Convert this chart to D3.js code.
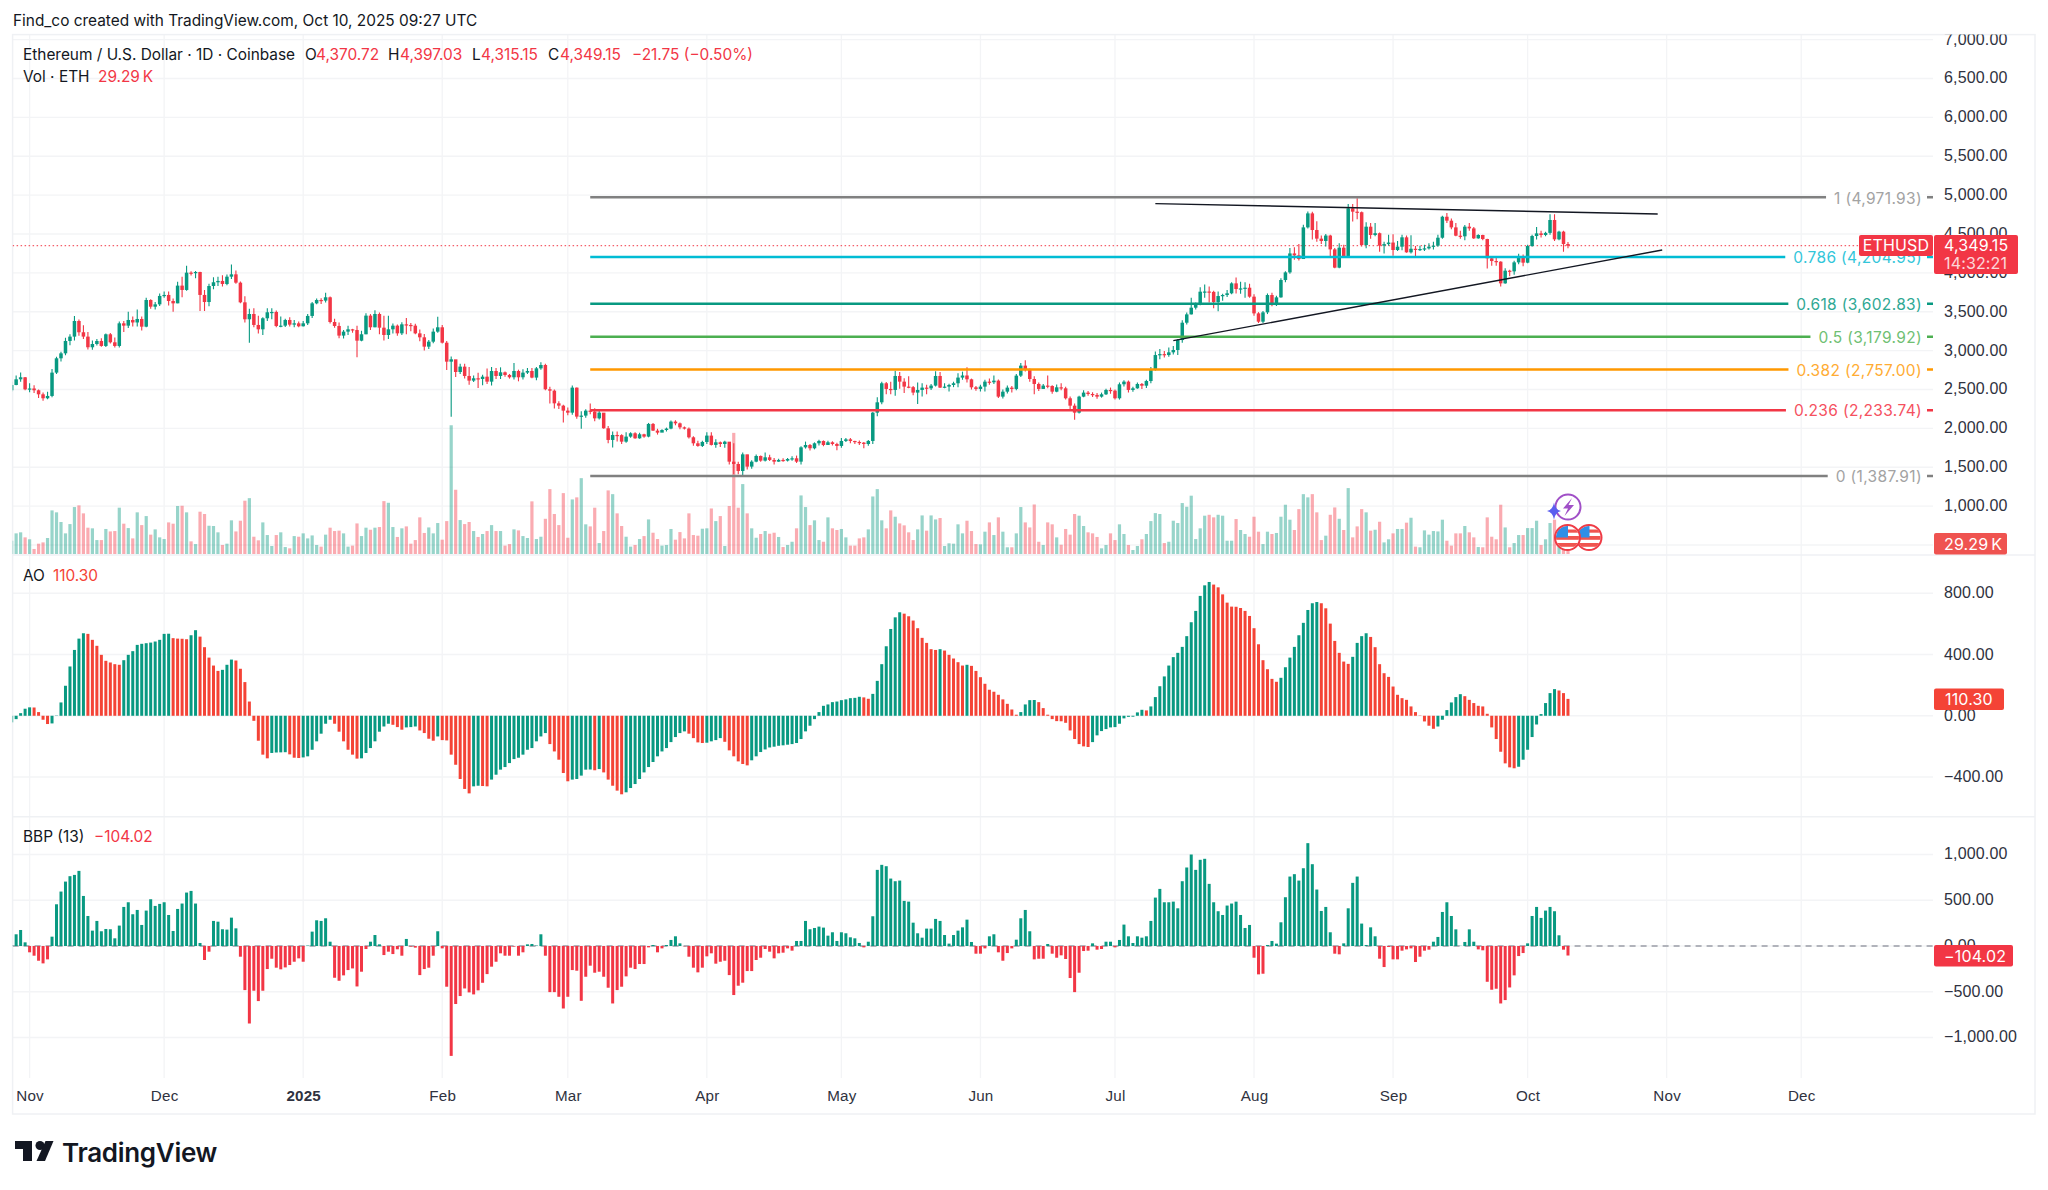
<!DOCTYPE html>
<html>
<head>
<meta charset="utf-8">
<title>ETHUSD daily</title>
<script src="https://cdn.jsdelivr.net/npm/d3@7"></script>
<style>
  html, body { margin: 0; padding: 0; background: #fff; }
  svg { display: block; font-family: Inter, Roboto, "Noto Sans", sans-serif; }
  text { font-kerning: normal; }
</style>
</head>
<body>
<svg id="chart" width="2048" height="1190"></svg>
<script>
// Daily ETH/USD candles, one value per day starting 28 Oct 2024 (last day 10 Oct 2025).
const firstDay = Date.UTC(2024, 9, 28);
const firstOpen = 2490;

const closes = [
  2558,2631,2657,2502,2513,2490,2438,2387,2417,2717,2901,2965,3124,3180,3381,3236,3180,3043,3085,3124,
  3060,3210,3107,3060,3351,3321,3394,3362,3407,3308,3651,3565,3595,3703,3716,3638,3608,3836,3780,4003,
  3998,4011,3716,3625,3831,3879,3896,3857,3951,3981,3874,3621,3403,3471,3330,3274,3416,3493,3497,3317,
  3321,3394,3334,3351,3313,3351,3446,3608,3651,3643,3686,3368,3317,3193,3244,3274,3265,3128,3210,3450,
  3300,3471,3295,3201,3274,3321,3222,3338,3330,3321,3222,3171,3051,3115,3244,3300,3102,2858,2888,2725,
  2794,2674,2614,2644,2635,2665,2601,2738,2674,2721,2687,2657,2738,2657,2717,2738,2653,2772,2815,2503,
  2485,2322,2292,2228,2202,2524,2151,2164,2228,2215,2129,2202,2001,1851,1915,1913,1829,1894,1937,1872,
  1924,1894,2057,1971,1945,1979,1997,2087,2065,2013,1997,1885,1808,1774,1825,1907,1787,1821,1799,1829,
  1572,1542,1452,1666,1508,1572,1645,1585,1628,1594,1572,1594,1585,1606,1615,1572,1756,1786,1744,1808,
  1838,1786,1821,1799,1774,1838,1859,1838,1825,1816,1799,1838,2202,2335,2580,2507,2494,2674,2601,2537,
  2530,2460,2494,2524,2515,2550,2674,2524,2537,2558,2580,2653,2680,2631,2528,2507,2537,2601,2593,2614,
  2408,2472,2524,2507,2678,2807,2760,2635,2571,2507,2550,2545,2472,2528,2515,2387,2292,2202,2408,2460,
  2442,2430,2408,2438,2494,2485,2387,2567,2601,2494,2515,2571,2549,2609,2763,2943,2955,2943,2978,3008,
  3136,3359,3466,3552,3595,3758,3760,3755,3625,3702,3715,3737,3865,3792,3800,3809,3694,3479,3372,3492,
  3715,3586,3685,3908,4006,4250,4225,4178,4585,4765,4551,4440,4410,4480,4302,4067,4324,4208,4830,4787,
  4780,4358,4594,4487,4510,4350,4370,4390,4294,4337,4457,4264,4310,4302,4307,4315,4337,4350,4452,4722,
  4671,4585,4478,4470,4594,4572,4444,4487,4435,4187,4152,4144,3865,4028,4019,4135,4217,4131,4345,4474,
  4508,4487,4514,4680,4431,4530,4370.72,4349.15
];

const highs = [
  2600,2680,2720,2660,2580,2555,2500,2460,2470,2765,2920,2985,3165,3210,3445,3400,3325,3240,3130,3150,
  3160,3220,3225,3170,3375,3380,3500,3440,3530,3440,3680,3660,3625,3735,3760,3760,3670,3885,3950,4090,
  4020,4025,4015,3780,3860,3945,3950,3970,3980,4108,4030,3890,3700,3540,3545,3450,3430,3545,3545,3515,
  3440,3410,3430,3395,3375,3380,3470,3625,3670,3675,3745,3695,3410,3360,3265,3320,3280,3320,3255,3480,
  3470,3520,3490,3450,3450,3350,3335,3365,3420,3355,3345,3270,3215,3135,3285,3435,3330,3125,2925,2880,
  2830,2830,2790,2680,2715,2690,2770,2790,2775,2785,2730,2700,2840,2755,2760,2775,2775,2790,2850,2830,
  2535,2500,2350,2305,2270,2550,2525,2220,2245,2320,2260,2225,2151,2030,1960,1960,1925,1950,1950,1950,
  1945,1930,2070,2070,1995,1990,2010,2100,2105,2075,2025,2010,1900,1840,1840,1950,1950,1860,1830,1840,
  1815,1810,1570,1690,1660,1590,1665,1650,1690,1660,1620,1610,1615,1620,1640,1650,1770,1830,1800,1820,
  1855,1845,1840,1835,1815,1875,1875,1875,1840,1845,1825,1850,2210,2400,2600,2595,2600,2740,2725,2645,
  2670,2545,2590,2580,2560,2570,2735,2725,2580,2575,2600,2710,2730,2785,2640,2545,2560,2625,2640,2680,
  2630,2500,2550,2545,2700,2840,2875,2770,2670,2590,2570,2680,2555,2565,2580,2535,2410,2320,2420,2490,
  2480,2465,2455,2460,2510,2525,2500,2590,2620,2615,2535,2590,2585,2625,2790,2990,3020,2995,3040,3060,
  3150,3390,3490,3680,3620,3815,3850,3825,3770,3760,3730,3780,3880,3940,3885,3880,3860,3725,3495,3510,
  3735,3745,3705,3930,4020,4320,4330,4370,4620,4790,4785,4665,4480,4500,4490,4320,4380,4360,4885,4885,
  4958,4790,4650,4640,4640,4520,4400,4490,4495,4410,4490,4480,4485,4345,4350,4360,4380,4400,4490,4735,
  4770,4700,4640,4540,4615,4640,4590,4495,4490,4440,4215,4205,4150,4060,4040,4155,4245,4235,4360,4490,
  4590,4540,4530,4755,4753,4540,4540,4397.03
];

const lows = [
  2470,2555,2600,2490,2465,2455,2390,2355,2375,2400,2700,2860,2940,3070,3130,3190,3150,3015,3010,3065,
  3050,3045,3090,3040,3040,3240,3290,3310,3310,3260,3300,3540,3530,3575,3680,3580,3500,3610,3685,3770,
  3965,3930,3510,3510,3570,3790,3830,3825,3840,3920,3860,3610,3360,3100,3300,3220,3200,3380,3405,3300,
  3300,3305,3310,3300,3300,3310,3330,3420,3595,3600,3620,3350,3295,3160,3155,3200,3230,2915,3120,3210,
  3265,3300,3210,3130,3150,3220,3190,3200,3210,3250,3210,3120,3000,3020,3095,3230,3090,2750,2151,2660,
  2700,2640,2560,2595,2520,2555,2570,2550,2635,2635,2665,2640,2630,2605,2630,2700,2645,2620,2755,2490,
  2320,2255,2250,2075,2170,2175,2125,1995,2135,2180,2090,2115,1995,1810,1755,1830,1800,1815,1880,1865,
  1865,1880,1885,1965,1920,1960,1960,1990,2040,1990,1985,1870,1775,1765,1760,1800,1780,1750,1760,1750,
  1535,1410,1410,1387.91,1470,1480,1565,1570,1575,1580,1535,1570,1570,1575,1585,1555,1535,1740,1715,1730,
  1780,1770,1790,1780,1720,1750,1825,1810,1800,1785,1745,1775,1800,2155,2310,2440,2440,2420,2510,2455,
  2515,2425,2315,2410,2440,2495,2540,2520,2515,2475,2530,2530,2625,2590,2500,2485,2475,2475,2560,2570,
  2390,2385,2450,2460,2490,2660,2730,2600,2440,2480,2505,2515,2445,2465,2490,2370,2240,2110,2190,2400,
  2420,2405,2380,2395,2430,2445,2370,2370,2540,2460,2470,2510,2505,2520,2580,2740,2890,2910,2920,2950,
  2945,3100,3335,3465,3530,3585,3680,3620,3544,3505,3640,3690,3725,3735,3730,3680,3680,3450,3355,3355,
  3470,3570,3575,3680,3880,3990,4170,4160,4185,4570,4430,4400,4370,4340,4210,4060,4060,4200,4208,4660,
  4690,4340,4315,4440,4470,4270,4250,4350,4220,4280,4290,4260,4250,4200,4280,4280,4300,4300,4335,4440,
  4640,4560,4470,4440,4420,4540,4435,4440,4420,4055,4090,4090,3825,3860,3955,3975,4110,4085,4125,4335,
  4430,4455,4470,4490,4410,4420,4270,4315.15
];

// Session change as quoted in the legend.
const dayChange = -21.75;
const dayChangePct = -0.50;

// Traded volume in thousands of ETH.
const volumes = [
  103,160,168,129,114,39,80,90,124,338,323,248,160,232,364,377,315,204,199,108,
  108,194,175,178,359,235,201,121,323,224,294,150,191,129,116,245,235,372,374,323,
  98,77,328,310,219,217,168,70,80,261,175,258,413,433,134,106,245,147,62,147,
  168,54,44,139,134,160,121,144,70,57,150,204,178,181,160,57,65,237,139,204,
  188,204,209,410,397,209,132,199,214,80,108,284,163,206,160,240,111,255,998,498,
  263,232,248,178,132,155,178,224,178,178,65,77,191,183,139,124,408,116,134,273,
  503,310,224,472,126,423,439,588,230,214,359,85,178,493,464,315,217,134,57,70,
  116,139,268,165,116,65,70,194,111,170,121,315,147,142,196,199,353,255,294,62,
  372,939,359,542,315,199,126,155,178,157,165,132,54,70,95,199,454,364,224,261,
  108,95,284,199,186,194,129,65,65,121,129,191,446,503,261,199,338,289,237,222,
  168,108,191,299,181,299,268,279,62,83,80,230,160,258,178,77,75,173,245,147,
  284,173,52,52,160,364,245,206,384,95,70,245,230,129,72,194,150,310,297,217,
  168,160,132,44,70,160,108,230,155,70,31,62,114,155,255,317,310,85,95,258,
  240,395,366,452,116,199,297,304,284,304,297,103,103,271,186,155,134,289,173,77,
  173,155,163,289,382,266,186,348,464,439,464,323,108,142,304,361,273,186,511,129,
  214,348,323,181,188,250,90,114,160,194,194,243,281,57,52,183,150,178,175,266,
  103,65,160,160,217,168,129,54,52,284,134,114,382,206,52,85,147,147,201,201,
  258,70,114,240,266,116,65,29.29
];

// Awesome Oscillator readings.
const aoValues = [
  -43,-22,17,46,55,54,24,-26,-54,-50,2,87,196,322,430,504,539,535,496,457,
  398,359,348,337,333,363,398,422,463,470,474,478,485,496,535,536,507,504,503,500,
  526,559,517,448,380,328,293,300,333,367,361,307,220,93,-33,-163,-254,-278,-243,-240,
  -239,-238,-252,-274,-276,-272,-265,-222,-167,-117,-52,-26,-52,-104,-167,-222,-254,-280,-278,-243,
  -211,-167,-104,-70,-52,-59,-74,-91,-76,-74,-70,-96,-113,-150,-163,-135,-159,-161,-254,-320,
  -413,-478,-507,-461,-457,-459,-461,-417,-385,-352,-335,-309,-283,-274,-254,-222,-211,-167,-135,-113,
  -185,-233,-287,-374,-428,-417,-413,-391,-352,-351,-356,-348,-370,-417,-457,-489,-513,-500,-472,-446,
  -413,-370,-335,-302,-265,-233,-211,-172,-139,-113,-102,-117,-146,-174,-178,-176,-167,-159,-146,-170,
  -226,-265,-298,-315,-324,-291,-265,-237,-220,-207,-202,-196,-193,-189,-185,-178,-152,-102,-65,-22,
  24,65,74,89,93,102,107,115,117,124,120,111,143,228,337,454,567,643,676,667,
  650,622,572,509,476,435,430,435,426,398,374,350,328,333,326,293,252,209,170,157,
  137,107,78,41,7,24,74,102,103,89,50,7,-22,-35,-36,-46,-96,-152,-185,-200,
  -204,-172,-128,-100,-87,-76,-74,-52,-17,-7,-6,22,39,35,61,122,193,257,328,383,
  411,450,520,611,685,783,852,874,857,839,793,739,713,712,704,685,652,572,467,363,
  304,241,222,248,317,380,450,526,607,691,735,743,735,702,602,489,411,354,339,385,
  476,520,539,515,448,337,278,254,191,137,115,104,61,24,2,-37,-65,-85,-70,-26,
  37,87,122,141,128,104,83,65,61,13,-76,-152,-235,-311,-337,-343,-333,-287,-222,-139,
  -57,11,83,148,174,165,148,110.30
];

// Bull Bear Power (13) readings.
const bbpValues = [
  5,128,175,40,-69,-106,-161,-190,-146,102,456,595,704,763,777,821,547,328,168,274,
  161,186,183,84,223,427,478,347,394,230,387,511,438,460,478,339,164,405,464,584,
  602,464,33,-153,-62,274,266,183,179,310,193,-117,-482,-847,-489,-602,-489,-252,-139,-237,
  -255,-234,-208,-172,-135,-172,5,157,281,274,303,47,-347,-380,-321,-263,-245,-442,-281,-33,
  47,120,18,-99,-62,-88,-36,-106,77,-7,-18,-318,-252,-237,-106,161,-26,-445,-1201,-634,
  -547,-464,-507,-529,-485,-402,-307,-226,-172,-80,-106,-106,-7,-106,-69,18,22,5,128,-106,
  -504,-504,-555,-683,-555,-263,-270,-599,-336,-215,-292,-281,-336,-456,-628,-482,-445,-332,-237,-252,
  -197,-197,-15,11,-69,-26,11,66,106,29,-3,-117,-237,-288,-237,-113,-80,-193,-172,-161,
  -318,-536,-434,-401,-274,-274,-153,-128,-33,-62,-135,-80,-73,-26,-51,55,55,274,183,197,
  212,201,113,150,55,150,139,95,84,33,-15,47,325,832,887,872,737,708,715,493,
  485,255,139,91,190,190,296,274,120,26,120,168,204,288,44,-84,-84,-26,106,128,
  -69,-161,-77,-26,69,303,394,161,-146,-139,-139,22,-84,-128,-102,-142,-350,-504,-292,-55,
  -51,29,-40,-33,47,47,-15,66,234,106,33,106,91,106,274,529,624,478,478,485,
  412,708,858,1000,832,942,953,679,478,380,339,442,464,485,339,197,230,-128,-310,-303,
  11,55,26,259,533,759,785,715,850,1124,894,617,383,427,150,-84,-91,29,412,690,
  759,245,11,204,106,-139,-230,-11,-146,-146,-51,-37,-26,-175,-117,-51,-40,47,99,372,
  478,328,182,2,44,182,47,-37,-47,-391,-478,-467,-628,-591,-453,-321,-110,-77,29,328,
  427,307,387,427,380,117,-40,-104.02
];

// Fibonacci retracement drawn from the March start date to the scale edge.
const fibRatios = ["1", "0.786", "0.618", "0.5", "0.382", "0.236", "0"];
const fibPrices = [4971.93, 4204.95, 3602.83, 3179.92, 2757.00, 2233.74, 1387.91];
const fibColors = ["#808080", "#00bcd4", "#089981", "#4caf50", "#ff9800", "#f23645", "#808080"];
const fibTextColors = ["#a3a3a3", "#33c6da", "#2fa894", "#70bf73", "#ffac33", "#f5515f", "#a3a3a3"];
const fibStart = Date.UTC(2025, 2, 6);

// Two hand-drawn trend lines: [date, price] pairs.
const resistanceLine = [[Date.UTC(2025, 6, 10), 4890], [Date.UTC(2025, 9, 30), 4757]];
const supportLine = [[Date.UTC(2025, 6, 14), 3128], [Date.UTC(2025, 9, 31), 4294]];

const priceTicks = [7000, 6500, 6000, 5500, 5000, 4500, 4000, 3500, 3000, 2500, 2000, 1500, 1000];
const priceGrid = priceTicks.concat([500]);
const aoTicks = [800, 400, 0, -400];
const bbpTicks = [1000, 500, 0, -500, -1000];
const monthTicks = [
  [Date.UTC(2024, 10, 1), "Nov"], [Date.UTC(2024, 11, 1), "Dec"], [Date.UTC(2025, 0, 1), "2025"],
  [Date.UTC(2025, 1, 1), "Feb"], [Date.UTC(2025, 2, 1), "Mar"], [Date.UTC(2025, 3, 1), "Apr"],
  [Date.UTC(2025, 4, 1), "May"], [Date.UTC(2025, 5, 1), "Jun"], [Date.UTC(2025, 6, 1), "Jul"],
  [Date.UTC(2025, 7, 1), "Aug"], [Date.UTC(2025, 8, 1), "Sep"], [Date.UTC(2025, 9, 1), "Oct"],
  [Date.UTC(2025, 10, 1), "Nov"], [Date.UTC(2025, 11, 1), "Dec"]
];

const DAY = 86400000;
const GREEN = "#089981", RED = "#f23645", AO_RED = "#f44336";
const INK = "#131722", AXIS_INK = "#2f3240", GRID = "#f3f4f6", FRAME = "#eff1f4";

// Frame and pane geometry.
const frameLeft = 12.6, plotRight = 1933, frameRight = 2035, frameTop = 34.6;
const pane1Bottom = 555, pane2Bottom = 816.7, gridBottom = 1078, frameBottom = 1114;

const svg = d3.select("#chart");
const x = d3.scaleUtc()
  .domain([Date.UTC(2024, 10, 1), Date.UTC(2025, 11, 1)])
  .range([29.6, 1801.2]);
const yPrice = d3.scaleLinear().domain([7000, 500]).range([39.6, 545]);
const yVol = d3.scaleLinear().domain([0, 1000]).range([554, 425]);
const yAO = d3.scaleLinear().domain([800, -400]).range([593.3, 777]);
const yBBP = d3.scaleLinear().domain([1000, -1000]).range([854.5, 1037.5]);

const days = closes.map((_, i) => firstDay + i * DAY);
const opens = closes.map((_, i) => (i === 0 ? firstOpen : closes[i - 1]));
const fmt = d3.format(",.2f");

const defs = svg.append("defs");
defs.append("clipPath").attr("id", "plot")
  .append("rect").attr("x", frameLeft).attr("y", frameTop)
  .attr("width", plotRight - frameLeft).attr("height", frameBottom - frameTop);
defs.append("clipPath").attr("id", "scaleLocal")
  .append("rect").attr("x", 0).attr("y", frameTop)
  .attr("width", frameRight - plotRight).attr("height", frameBottom - frameTop);

// Gridlines, drawn under everything else.
const grid = svg.append("g").attr("stroke", GRID).attr("fill", "none");
grid.selectAll(".gv").data(monthTicks).join("line").attr("class", "gv")
  .attr("x1", d => x(d[0])).attr("x2", d => x(d[0]))
  .attr("y1", frameTop).attr("y2", gridBottom).attr("stroke-width", 1.3);
const hLines = [
  ...priceGrid.map(yPrice),
  ...aoTicks.map(yAO),
  ...bbpTicks.map(yBBP)
];
grid.selectAll(".gh").data(hLines).join("line").attr("class", "gh")
  .attr("x1", frameLeft).attr("x2", plotRight)
  .attr("y1", d => d).attr("y2", d => d).attr("stroke-width", 1.4);

// Outer frame and pane separators.
const frameLines = svg.append("g").attr("stroke", FRAME).attr("stroke-width", 1.5).attr("fill", "none");
frameLines.append("rect").attr("x", frameLeft).attr("y", frameTop)
  .attr("width", frameRight - frameLeft).attr("height", frameBottom - frameTop);
frameLines.selectAll(".sep").data([pane1Bottom, pane2Bottom]).join("line").attr("class", "sep")
  .attr("x1", frameLeft).attr("x2", frameRight).attr("y1", d => d).attr("y2", d => d);

const plot = svg.append("g").attr("clip-path", "url(#plot)");

// Volume histogram under the candles.
plot.append("g").selectAll("rect").data(volumes).join("rect")
  .attr("x", (_, i) => x(days[i]) - 1.6).attr("width", 3.2)
  .attr("y", d => yVol(d)).attr("height", d => yVol(0) - yVol(d))
  .attr("fill", (_, i) => (closes[i] >= opens[i] ? GREEN : RED))
  .attr("opacity", 0.42);

// Current price marker line.
plot.append("line")
  .attr("x1", frameLeft).attr("x2", plotRight)
  .attr("y1", yPrice(closes[closes.length - 1])).attr("y2", yPrice(closes[closes.length - 1]))
  .attr("stroke", RED).attr("stroke-width", 1).attr("stroke-dasharray", "1.5 2.5");

// Candles.
const candles = plot.append("g");
candles.selectAll("line").data(closes).join("line")
  .attr("x1", (_, i) => x(days[i])).attr("x2", (_, i) => x(days[i]))
  .attr("y1", (_, i) => yPrice(highs[i])).attr("y2", (_, i) => yPrice(lows[i]))
  .attr("stroke", (_, i) => (closes[i] >= opens[i] ? GREEN : RED))
  .attr("stroke-width", 1.1);
candles.selectAll("rect").data(closes).join("rect")
  .attr("x", (_, i) => x(days[i]) - 1.75).attr("width", 3.5)
  .attr("y", (_, i) => yPrice(Math.max(opens[i], closes[i])))
  .attr("height", (_, i) => Math.max(1.2, Math.abs(yPrice(opens[i]) - yPrice(closes[i]))))
  .attr("fill", (_, i) => (closes[i] >= opens[i] ? GREEN : RED));

// Fibonacci levels and their labels.
const fibGroup = svg.append("g");
fibPrices.forEach((price, i) => {
  const y = yPrice(price);
  fibGroup.append("line")
    .attr("x1", x(fibStart)).attr("x2", plotRight).attr("y1", y).attr("y2", y)
    .attr("stroke", fibColors[i]).attr("stroke-width", 2.5);
  const label = fibGroup.append("text")
    .attr("x", 1922).attr("y", y + 0.8).attr("dy", "0.35em").attr("text-anchor", "end")
    .attr("font-size", 15.5).attr("fill", fibTextColors[i]).attr("letter-spacing", 0.35)
    .text(`${fibRatios[i]} (${fmt(price)})`);
  const w = label.node().getComputedTextLength();
  fibGroup.insert("rect", () => label.node())
    .attr("x", 1922 - w - 8).attr("y", y - 3).attr("width", w + 13).attr("height", 6)
    .attr("fill", "#fff");
});

// Trend lines.
const trend = d3.line().x(d => x(d[0])).y(d => yPrice(d[1]));
svg.append("g").selectAll("path").data([resistanceLine, supportLine]).join("path")
  .attr("d", trend).attr("fill", "none").attr("stroke", "#131722").attr("stroke-width", 1.4);

// Awesome Oscillator pane.
plot.append("g").selectAll("rect").data(aoValues).join("rect")
  .attr("x", (_, i) => x(days[i]) - 1.5).attr("width", 3)
  .attr("y", d => Math.min(yAO(d), yAO(0)))
  .attr("height", d => Math.abs(yAO(d) - yAO(0)))
  .attr("fill", (d, i) => (i > 0 && d < aoValues[i - 1] ? AO_RED : GREEN));

// Bull Bear Power pane with its dashed zero line.
plot.append("line")
  .attr("x1", frameLeft).attr("x2", plotRight).attr("y1", yBBP(0)).attr("y2", yBBP(0))
  .attr("stroke", "#9a9da6").attr("stroke-width", 1.3).attr("stroke-dasharray", "6 5");
plot.append("g").selectAll("rect").data(bbpValues).join("rect")
  .attr("x", (_, i) => x(days[i]) - 1.5).attr("width", 3)
  .attr("y", d => Math.min(yBBP(d), yBBP(0)))
  .attr("height", d => Math.abs(yBBP(d) - yBBP(0)))
  .attr("fill", d => (d >= 0 ? GREEN : RED));

// Right-hand value scales.
function valueAxis(scale, ticks, clip) {
  const g = svg.append("g")
    .call(d3.axisRight(scale).tickValues(ticks).tickSize(0).tickPadding(11).tickFormat(fmt));
  g.select(".domain").remove();
  g.attr("transform", `translate(${plotRight},0)`);
  if (clip) g.attr("clip-path", "url(#scaleLocal)");
  g.selectAll("text").attr("font-family", "inherit").attr("font-size", 16)
    .attr("fill", AXIS_INK).attr("dy", "0.28em").attr("letter-spacing", 0.15);
  return g;
}
valueAxis(yPrice, priceTicks, true);
valueAxis(yAO, aoTicks, false);
valueAxis(yBBP, bbpTicks, false);

// Month axis.
const timeAxis = svg.append("g").attr("transform", `translate(0,${gridBottom})`)
  .call(d3.axisBottom(x).tickValues(monthTicks.map(d => new Date(d[0]))).tickSize(0).tickPadding(12)
    .tickFormat((_, i) => monthTicks[i][1]));
timeAxis.select(".domain").remove();
timeAxis.selectAll("text").attr("font-family", "inherit").attr("font-size", 15.2)
  .attr("fill", AXIS_INK).attr("letter-spacing", 0.2)
  .attr("font-weight", (_, i) => (monthTicks[i][1] === "2025" ? 700 : 400));

// Value tags on the scale.
function tag(tagX, y0, w, h, fill) {
  svg.append("rect").attr("x", tagX).attr("y", y0).attr("width", w).attr("height", h)
    .attr("rx", 2).attr("fill", fill);
}
function tagText(tagX, y, str, opacity, anchor) {
  svg.append("text").attr("x", tagX).attr("y", y).attr("dy", "0.35em")
    .attr("font-size", 16).attr("fill", "#fff").attr("opacity", opacity || 1)
    .attr("text-anchor", anchor || "start").attr("letter-spacing", 0.15).text(str);
}
const lastClose = closes[closes.length - 1];
const lastVol = volumes[volumes.length - 1];
const lastAO = aoValues[aoValues.length - 1];
const lastBBP = bbpValues[bbpValues.length - 1];
const volLabel = `${lastVol}\u2009K`;

tag(1859, 235, 74, 21, RED);
tagText(1896, 245.5, "ETHUSD", 1, "middle");
tag(1934, 235, 84, 39, RED);
tagText(1944, 245, fmt(lastClose));
tagText(1944, 263, "14:32:21", 0.8);
tag(1934, 533, 73, 21.5, "#ef5350");
tagText(1944, 544, volLabel);
tag(1934, yAO(lastAO) - 10.5, 70, 21.5, AO_RED);
tagText(1945, yAO(lastAO) + 0.5, fmt(lastAO));
tag(1934, yBBP(lastBBP) - 10.5, 79, 21.5, RED);
tagText(1944, yBBP(lastBBP) + 0.5, fmt(lastBBP));

// Legend rows.
function legend(tx, ty, str, fill) {
  svg.append("text").attr("x", tx).attr("y", ty).attr("dy", "0.35em")
    .attr("font-size", 15.4).attr("fill", fill || INK).text(str);
}
const lastOpen = opens[opens.length - 1];
const lastHigh = highs[highs.length - 1];
const lastLow = lows[lows.length - 1];
legend(13, 20.5, "Find_co created with TradingView.com, Oct 10, 2025 09:27 UTC");
legend(23, 55, "Ethereum / U.S. Dollar · 1D · Coinbase");
legend(305, 55, "O");
legend(316, 55, fmt(lastOpen), RED);
legend(388, 55, "H");
legend(400, 55, fmt(lastHigh), RED);
legend(472, 55, "L");
legend(481, 55, fmt(lastLow), RED);
legend(548, 55, "C");
legend(560, 55, fmt(lastClose), RED);
legend(632, 55, `${fmt(dayChange)} (${fmt(dayChangePct)}%)`, RED);
legend(23, 77, "Vol · ETH");
legend(98, 77, volLabel, RED);
legend(23, 576, "AO");
legend(53, 576, fmt(lastAO), "#f44336");
legend(23, 837, "BBP (13)");
legend(94, 837, fmt(lastBBP), RED);

// Event markers next to the latest bars.
const markers = svg.append("g");
markers.append("circle").attr("cx", 1568).attr("cy", 507).attr("r", 12.5)
  .attr("fill", "#fff").attr("stroke", "#a04fc7").attr("stroke-width", 2);
markers.append("path").attr("d", "M1572 498 L1563 508.5 L1568 508.5 L1564.5 516 L1574 505 L1568.5 505 Z")
  .attr("fill", "#a04fc7");
markers.append("path").attr("d", "M1554 502.5 Q1555.2 509.8 1561 511 Q1555.2 512.2 1554 519.5 Q1552.8 512.2 1547 511 Q1552.8 509.8 1554 502.5 Z")
  .attr("fill", "#5b5fef");

function flag(cx, cy, id) {
  const r = 12.5;
  const g = markers.append("g");
  g.append("clipPath").attr("id", id).append("circle").attr("cx", cx).attr("cy", cy).attr("r", r - 1);
  g.append("circle").attr("cx", cx).attr("cy", cy).attr("r", r).attr("fill", "#fff");
  const art = g.append("g").attr("clip-path", `url(#${id})`);
  art.append("rect").attr("x", cx - r).attr("y", cy - 1.5).attr("width", 2 * r).attr("height", 3.8).attr("fill", "#f0544f");
  art.append("rect").attr("x", cx - r).attr("y", cy + 5.5).attr("width", 2 * r).attr("height", 3.8).attr("fill", "#f0544f");
  art.append("rect").attr("x", cx - r).attr("y", cy - 8).attr("width", 2 * r).attr("height", 3.2).attr("fill", "#f0544f");
  art.append("rect").attr("x", cx - r).attr("y", cy - r).attr("width", r + 0.5).attr("height", r).attr("fill", "#2f8fe6");
  g.append("circle").attr("cx", cx).attr("cy", cy).attr("r", r).attr("fill", "none")
    .attr("stroke", "#ef3b45").attr("stroke-width", 2);
}
flag(1589, 537.5, "flagB");
flag(1567.5, 537.5, "flagA");

// Wordmark at the bottom-left.
const logo = svg.append("g").attr("fill", "#131722");
logo.append("path").attr("d", "M15 1141 H32 V1161 H23 V1149 H15 Z");
logo.append("circle").attr("cx", 40).attr("cy", 1145.5).attr("r", 4.5);
logo.append("path").attr("d", "M53.5 1141 L45 1161 H36.5 L45.5 1141 Z");
logo.append("text").attr("x", 62).attr("y", 1153).attr("dy", "0.35em")
  .attr("font-size", 26).attr("font-weight", 600).attr("letter-spacing", -0.3).text("TradingView");
</script>
</body>
</html>
